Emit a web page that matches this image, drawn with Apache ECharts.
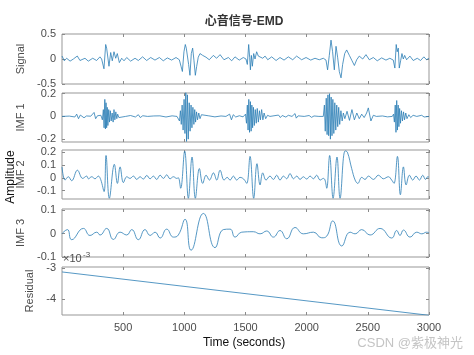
<!DOCTYPE html>
<html><head><meta charset="utf-8">
<script src="https://cdn.jsdelivr.net/npm/echarts@6/dist/echarts.min.js"></script>
<style>html,body{margin:0;padding:0;background:#fff}#c{width:474px;height:355px}</style>
</head><body><div id="c"></div><script>
// ---- data ----
const panelNames = ['Signal', 'IMF 1', 'IMF 2', 'IMF 3', 'Residual'];
const xTickValues = [500, 1000, 1500, 2000, 2500, 3000];
const yTickValues = [[-0.5, 0, 0.5], [-0.2, 0, 0.2], [-0.1, 0, 0.1, 0.2], [-0.1, 0, 0.1], [-0.004, -0.003]];
const yMins = [-0.5, -0.225, -0.166, -0.1, -0.00452];
const yMaxs = [0.5, 0.206, 0.217, 0.105, -0.00297];

const signalPts = [[0,0.06],[19,-0.036],[38,0.015],[66,-0.043],[93,0],[125,0.06],[147,-0.03],[188,0.015],[215,-0.043],[251,0.015],[283,-0.03],[310,0.043],[324,0],
[343,-0.196],[357,0.29],[365,0.217],[373,0.254],[384,-0.145],[398,0.13],[411,-0.036],[425,0.145],[439,0.015],[452,0.109],[469,-0.072],[488,0.015],[507,-0.036],
[529,0.03],[561,-0.043],[597,0.015],[624,-0.03],[659,0.043],[692,-0.03],[725,0.03],[760,-0.022],[796,0.03],[828,-0.036],[861,0.022],[896,-0.022],[932,0.03],[959,-0.015],
[973,-0.145],[984,-0.25],[997,0.145],[1008,0.29],[1016,0.217],[1025,0.254],[1035,-0.109],[1046,-0.326],[1057,0.109],[1068,0.217],[1079,-0.036],[1090,-0.326],[1101,-0.145],[1114,0.036],[1128,0.109],[1150,0.072],
[1177,0.036],[1204,-0.015],[1237,0.072],[1264,0.015],[1292,0.087],[1324,-0.015],[1360,0.03],[1387,-0.036],[1414,0.043],[1449,-0.022],[1482,0.03],[1504,0],
[1515,-0.109],[1526,0.29],[1534,0.036],[1540,-0.217],[1548,0.072],[1556,-0.145],[1567,0.109],[1578,0],[1591,0.145],[1605,0.058],[1619,0.087],[1641,0.015],[1660,0.058],[1682,-0.015],
[1714,0.043],[1750,-0.03],[1782,0.03],[1815,-0.022],[1850,0.043],[1886,-0.015],[1918,0.058],[1959,-0.015],[1995,0.03],[2033,-0.022],[2068,0.015],[2103,-0.015],[2136,0.015],[2158,-0.022],
[2171,-0.217],[2185,0.072],[2199,0.377],[2212,0.145],[2226,-0.217],[2240,0.254],[2253,0.036],[2267,-0.254],[2281,-0.377],[2294,-0.109],[2311,0.109],[2327,0.181],[2349,0.072],[2371,-0.036],[2390,-0.13],[2409,-0.015],[2430,0.058],[2458,0],[2485,0.087],[2512,-0.015],[2545,0.03],[2577,-0.036],[2613,0.022],[2648,-0.022],[2680,0.015],[2708,-0.022],
[2721,-0.181],[2732,0.29],[2740,0.145],[2749,0.217],[2757,-0.181],[2768,-0.036],[2779,0.109],[2790,0],[2801,0.072],[2817,-0.015],[2844,0.058],[2871,-0.03],[2904,0.015],[2931,-0.03],[2958,0.043],[2980,-0.015],[2999,0.015]];

const imf1Pts = [[0,0],[60,0.003],[105,-0.005],[120,0.02],[135,-0.02],[150,0.012],[165,-0.004],[180,-0.012],[200,0.004],[235,0.002],[250,0.012],[262,0.035],[275,-0.02],[290,0.006],[305,-0.004],[318,0.01],
[330,-0.03],[338,0.06],[344,-0.1],[350,0.15],[355,-0.11],[360,0.12],[365,-0.1],[370,0.08],[375,-0.08],[382,0.06],[388,-0.05],[395,0.05],[402,-0.04],[410,0.03],[418,-0.05],[425,0.06],[432,-0.03],[440,0.04],[448,-0.02],[455,0.02],[465,-0.01],[480,0.005],
[520,0],[560,0.008],[600,-0.005],[624,0.015],[640,-0.01],[660,0.006],[700,0],[750,0.004],[800,0.005],[850,-0.005],[900,0.005],[940,0],
[951,0.01],[960,-0.04],[968,0.05],[975,-0.07],[982,0.1],[990,-0.12],[998,0.15],[1005,-0.15],[1012,0.21],[1018,-0.22],[1025,0.19],[1032,-0.2],[1040,0.12],[1047,-0.13],[1055,0.1],[1062,-0.1],[1070,0.08],[1078,-0.07],[1085,0.06],[1092,-0.05],[1100,0.04],[1108,-0.03],[1118,0.03],[1128,-0.02],[1140,0.015],[1155,0],
[1200,0.005],[1250,-0.004],[1300,0.004],[1340,0],[1370,0.02],[1385,-0.03],[1400,0.015],[1420,-0.005],[1450,0.006],[1480,-0.004],
[1500,0.02],[1508,-0.06],[1515,0.1],[1521,-0.12],[1527,0.15],[1533,-0.14],[1540,0.13],[1546,-0.13],[1552,0.1],[1558,-0.1],[1565,0.08],[1572,-0.08],[1580,0.06],[1588,-0.06],[1596,0.07],[1605,-0.05],[1614,0.05],[1622,-0.03],[1632,0.06],[1642,-0.03],[1652,0.03],[1665,-0.02],[1680,0.01],[1700,0],
[1770,0.012],[1785,-0.01],[1800,0.008],[1830,-0.006],[1850,0.01],[1880,0],[1905,0.025],[1915,-0.015],[1930,0.005],[1980,0],[2020,0.008],[2040,-0.008],[2060,0.004],[2100,0],
[2136,0],[2145,0.1],[2152,-0.13],[2160,0.16],[2167,-0.16],[2174,0.19],[2180,-0.17],[2187,0.2],[2194,-0.2],[2200,0.17],[2207,-0.17],[2214,0.15],[2222,-0.15],[2230,0.12],[2238,-0.12],[2246,0.1],[2254,-0.09],[2262,0.08],[2270,-0.07],[2280,0.05],[2290,-0.04],[2300,0.03],[2312,-0.02],
[2330,0.045],[2350,-0.035],[2370,0.06],[2390,-0.03],[2410,0.03],[2430,-0.02],[2450,0.02],[2470,-0.01],[2490,0.03],[2504,0.075],[2525,-0.04],[2545,0.01],[2570,0],[2620,0.004],[2660,-0.004],[2700,0],
[2710,0.02],[2717,-0.05],[2724,0.1],[2730,-0.14],[2736,0.14],[2742,-0.12],[2748,0.1],[2754,-0.09],[2760,0.07],[2767,-0.06],[2775,0.05],[2783,-0.04],[2792,0.04],[2800,-0.03],[2810,0.03],[2820,-0.02],[2835,0.015],[2850,-0.01],[2870,0.01],[2900,0],[2940,0.01],[2960,-0.005],[3000,0]];

const imf2Pts = [[0,0.085],[25,-0.018],[52,0.008],[79,-0.023],[126,0.059],[169,-0.005],[202,0.013],[216,-0.008],[243,0.008],[270,-0.008],[297,0.013],[316,-0.013],
[344,-0.108],[360,0.174],[387,-0.16],[428,0.105],[453,-0.044],[475,0.085],[502,-0.038],[529,0.008],
[556,-0.005],[584,0.013],[611,-0.013],[638,0.008],[665,-0.01],[693,0.018],[720,-0.008],[747,0.013],[774,-0.013],[802,0.02],[829,-0.005],[856,0.023],[883,-0.008],[911,0.008],[938,-0.005],
[951,0],[970,-0.082],[1003,0.208],[1033,-0.16],[1063,0.162],[1090,-0.16],[1123,0.072],[1150,-0.044],[1178,0.02],[1205,-0.018],[1238,0.038],[1265,-0.018],[1292,0.059],[1325,-0.018],[1350,0.003],[1374,-0.018],[1401,0.013],[1428,-0.018],[1455,0.003],[1485,-0.01],
[1510,-0.044],[1537,0.167],[1567,-0.16],[1594,0.11],[1619,-0.056],[1641,0.038],[1668,-0.018],
[1700,0.013],[1728,-0.013],[1755,0.02],[1782,-0.018],[1810,0.013],[1837,-0.008],[1864,0.033],[1892,-0.008],[1919,0.013],[1946,-0.013],[1973,0.008],[2000,-0.01],[2028,0.013],[2055,-0.008],[2082,0.02],[2110,-0.018],[2137,-0.005],
[2150,-0.018],[2164,-0.082],[2188,0.174],[2216,-0.16],[2248,0.162],[2273,-0.16],[2314,0.21],[2333,0.2],[2368,0.072],[2396,-0.018],[2418,-0.044],[2450,0.003],[2477,-0.013],[2505,0.013],[2546,-0.013],[2586,0.02],[2627,-0.008],[2668,0.008],[2695,-0.018],
[2714,-0.044],[2742,0.167],[2766,-0.133],[2791,0.085],[2813,-0.056],[2840,0.02],[2867,-0.018],[2894,0.013],[2922,-0.018],[2949,0.02],[2971,-0.013],[2990,0.008],[3000,0.005]];

const imf3Pts = [[0,0],[44,0.017],[79,-0.026],[175,0.022],[229,-0.008],[284,0.006],[311,-0.006],[365,0.022],[420,-0.025],[475,0.006],[529,-0.006],[570,0.017],[624,-0.026],[679,0.017],[720,-0.008],[761,0.006],[802,-0.019],[856,0.019],[911,-0.015],[951,-0.006],
[1006,0.061],[1055,-0.071],[1156,0.086],[1251,-0.06],[1319,0.017],[1374,0.019],[1415,-0.015],[1469,0.006],[1564,0.008],[1619,-0.001],[1673,0.011],[1728,-0.015],[1782,0.013],[1837,-0.022],[1905,0.026],[1973,-0.001],[2055,0.006],[2123,-0.018],[2164,-0.011],
[2213,0.054],[2287,-0.053],[2355,0.006],[2396,-0.001],[2450,0.017],[2518,-0.006],[2600,0.022],[2695,-0.019],[2736,0.013],[2763,-0.008],[2791,0.015],[2845,-0.015],[2900,0.006],[2941,-0.001],[2981,0.006],[3000,0.003]];

const residualPts = [[1,-0.00313],[3000,-0.00453]];

const seriesData = [signalPts, imf1Pts, imf2Pts, imf3Pts, residualPts];
const smoothing = [false, false, 0.4, 0.5, false];

// ---- layout ----
const tops = [34, 93, 150, 209, 267];
const heights = [50, 49, 49, 48, 48];
const FONT = '"Liberation Sans", Arial, Helvetica, sans-serif';
const labelColor = '#4d4d4d';
const frameColor = '#979797';
const tickStyle = { color: '#8a8a8a', width: 1 };

const chart = echarts.init(document.getElementById('c'), null, { renderer: 'canvas' });
const grid = [], xAxis = [], yAxis = [], series = [];
for (let i = 0; i < 5; i++) {
  grid.push({ left: 62, width: 367, top: tops[i], height: heights[i], show: true,
    borderColor: frameColor, borderWidth: 1, backgroundColor: 'transparent', containLabel: false, outerBoundsMode: 'none' });
}
for (let i = 0; i < 5; i++) {
  xAxis.push({ gridIndex: i, type: 'value', min: 0, max: 3000, position: 'bottom',
    axisLine: { show: false, onZero: false }, splitLine: { show: false },
    axisTick: { show: true, inside: true, length: 3, lineStyle: tickStyle, customValues: xTickValues },
    axisLabel: { show: i === 4, customValues: xTickValues, color: labelColor, fontSize: 11, fontFamily: FONT, margin: 7,
      formatter: v => String(v) } });
}
for (let i = 0; i < 5; i++) {
  xAxis.push({ gridIndex: i, type: 'value', min: 0, max: 3000, position: 'top',
    axisLine: { show: false, onZero: false }, splitLine: { show: false },
    axisTick: { show: true, inside: true, length: 3, lineStyle: tickStyle, customValues: xTickValues },
    axisLabel: { show: false } });
}
for (let i = 0; i < 5; i++) {
  const isRes = i === 4;
  yAxis.push({ gridIndex: i, type: 'value', min: yMins[i], max: yMaxs[i], position: 'left',
    axisLine: { show: false, onZero: false }, splitLine: { show: false },
    axisTick: { show: true, inside: true, length: 3, lineStyle: tickStyle, customValues: yTickValues[i] },
    axisLabel: { customValues: yTickValues[i], color: labelColor, fontSize: 11, fontFamily: FONT, margin: 6,
      formatter: v => isRes ? String(Math.round(v * 1000)) : String(Math.round(v * 1000) / 1000) },
    name: panelNames[i], nameLocation: 'middle', nameGap: isRes ? 19 : 28,
    nameTextStyle: { color: labelColor, fontSize: 11, fontFamily: FONT } });
}
for (let i = 0; i < 5; i++) {
  yAxis.push({ gridIndex: i, type: 'value', min: yMins[i], max: yMaxs[i], position: 'right',
    axisLine: { show: false, onZero: false }, splitLine: { show: false },
    axisTick: { show: true, inside: true, length: 3, lineStyle: tickStyle, customValues: yTickValues[i] },
    axisLabel: { show: false } });
}
for (let i = 0; i < 5; i++) {
  series.push({ type: 'line', xAxisIndex: i, yAxisIndex: i, data: seriesData[i], showSymbol: false,
    smooth: smoothing[i], clip: true, lineStyle: { color: '#2b7db5', width: 0.8 }, silent: true });
}

chart.setOption({
  animation: false,
  backgroundColor: '#fff',
  grid, xAxis, yAxis, series,
  graphic: [
    { type: 'text', x: 244, y: 22, style: { text: '心音信号-EMD', textAlign: 'center', textVerticalAlign: 'middle',
      font: 'bold 12px "Liberation Sans", "Noto Sans CJK SC", sans-serif', fill: '#333' } },
    { type: 'text', x: 11, y: 177, rotation: Math.PI / 2, style: { text: 'Amplitude', textAlign: 'center', textVerticalAlign: 'middle',
      font: '12px "Liberation Sans", Arial, sans-serif', fill: '#111' } },
    { type: 'text', x: 244, y: 343, style: { text: 'Time (seconds)', textAlign: 'center', textVerticalAlign: 'middle',
      font: '12px "Liberation Sans", Arial, sans-serif', fill: '#111' } },
    { type: 'text', x: 63, y: 259, style: { text: '×10', textAlign: 'left', textVerticalAlign: 'middle',
      font: '11px "Liberation Sans", Arial, sans-serif', fill: labelColor } },
    { type: 'text', x: 83, y: 255, style: { text: '-3', textAlign: 'left', textVerticalAlign: 'middle',
      font: '8px "Liberation Sans", Arial, sans-serif', fill: labelColor } },
    { type: 'text', x: 463, y: 343, style: { text: 'CSDN @紫极神光', textAlign: 'right', textVerticalAlign: 'middle',
      font: '13px "Liberation Sans", "Noto Sans CJK SC", sans-serif', fill: '#c4c4c4' } }
  ]
});
</script></body></html>
